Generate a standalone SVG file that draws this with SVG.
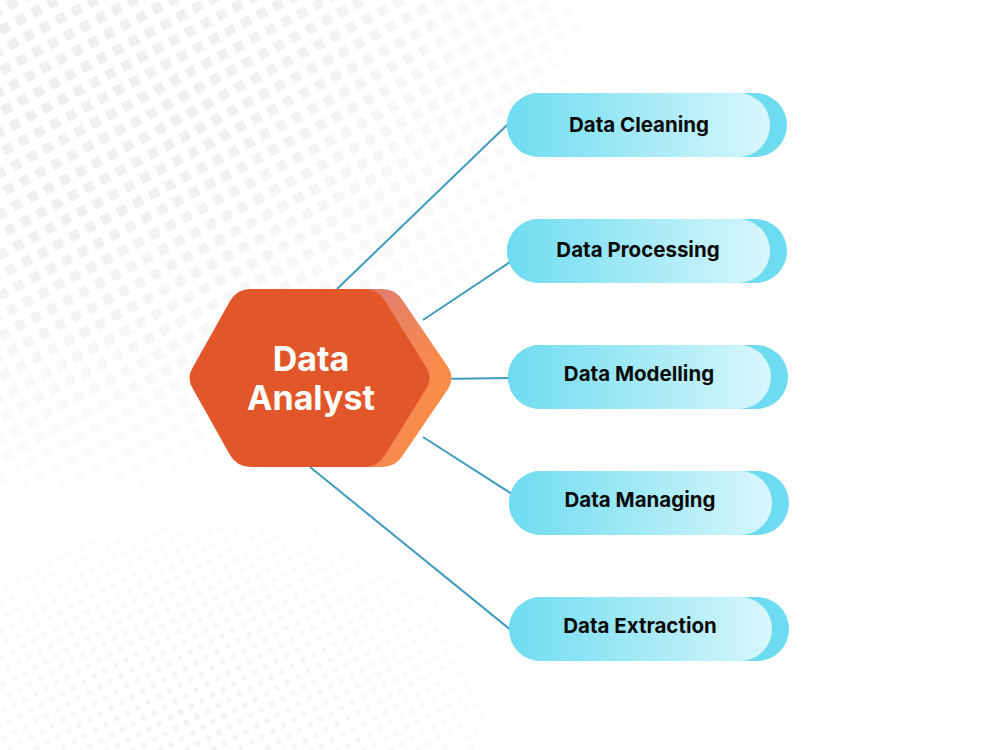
<svg xmlns="http://www.w3.org/2000/svg" width="1000" height="750" viewBox="0 0 1000 750">
<defs>
<style>
.conn{stroke:#3f9cbf;stroke-width:2;fill:none}
.pback{fill:#6edcf0}
.pfront{fill:url(#pg)}
.ptxt{font-family:Inter,"Liberation Sans",sans-serif;font-weight:700;font-size:20.5px;fill:#0a0a0a;text-anchor:middle}
.htxt{font-family:Inter,"Liberation Sans",sans-serif;font-weight:700;font-size:34px;fill:#ffffff;text-anchor:middle}
</style>
<linearGradient id="pg" x1="0" y1="0" x2="1" y2="0">
<stop offset="0" stop-color="#6edcf0"/>
<stop offset="1" stop-color="#d8f7fc"/>
</linearGradient>
<linearGradient id="hg" x1="0" y1="0" x2="1" y2="0.3">
<stop offset="0.5" stop-color="#d7767b"/>
<stop offset="1" stop-color="#fb8c4a"/>
</linearGradient>
<pattern id="dots" width="18" height="18" patternUnits="userSpaceOnUse" patternTransform="rotate(-28)">
<rect x="4" y="4" width="10" height="10" fill="#eeeeee"/>
</pattern>
<pattern id="dots2" width="12" height="12" patternUnits="userSpaceOnUse" patternTransform="rotate(-28)">
<rect x="3" y="3" width="5" height="5" fill="#eeeeee"/>
</pattern>
<radialGradient id="fade1" cx="0" cy="0" r="1" gradientUnits="userSpaceOnUse" gradientTransform="translate(0 0) scale(640 540)">
<stop offset="0" stop-color="#fff"/>
<stop offset="0.45" stop-color="#fff" stop-opacity="0.85"/>
<stop offset="1" stop-color="#fff" stop-opacity="0"/>
</radialGradient>
<radialGradient id="fade2" cx="0" cy="0" r="1" gradientUnits="userSpaceOnUse" gradientTransform="translate(200 720) scale(380 260)">
<stop offset="0" stop-color="#fff" stop-opacity="0.8"/>
<stop offset="1" stop-color="#fff" stop-opacity="0"/>
</radialGradient>
<mask id="m1"><rect width="1000" height="750" fill="url(#fade1)"/></mask>
<mask id="m2"><rect width="1000" height="750" fill="url(#fade2)"/></mask>
</defs>
<rect width="1000" height="750" fill="#ffffff"/>
<g id="background">
<rect width="1000" height="750" fill="url(#dots)" mask="url(#m1)"/>
<rect width="1000" height="750" fill="url(#dots2)" mask="url(#m2)"/>
</g>
<g id="connectors">
<line class="conn" x1="337" y1="289" x2="507" y2="125"/>
<line class="conn" x1="423" y1="320" x2="510" y2="262"/>
<line class="conn" x1="440" y1="379" x2="510" y2="378"/>
<line class="conn" x1="423" y1="437" x2="512" y2="494"/>
<line class="conn" x1="310" y1="467" x2="512" y2="631"/>
</g>
<g id="data-analyst">
<path fill="url(#hg)" d="M214,367 L251,301 Q258,289 272,289 L382,289 Q396,289 403,301 L448,367 Q455,378 448,389 L403,455 Q396,467 382,467 L272,467 Q258,467 251,455 L214,389 Q207,378 214,367 Z"/>
<path fill="#e2572a" d="M193,367 L230,301 Q237,289 251,289 L364,289 Q378,289 385,301 L426,367 Q433,378 426,389 L385,455 Q378,467 364,467 L251,467 Q237,467 230,455 L193,389 Q186,378 193,367 Z"/>
<text class="htxt" x="311" y="371">Data</text>
<text class="htxt" x="311" y="410">Analyst</text>
</g>
<g id="data-cleaning">
<rect class="pback" x="507" y="93" width="280" height="64" rx="32"/>
<rect class="pfront" x="507" y="93" width="263" height="64" rx="32"/>
<text class="ptxt" x="639" y="132">Data Cleaning</text>
</g>
<g id="data-processing">
<rect class="pback" x="507" y="219" width="280" height="64" rx="32"/>
<rect class="pfront" x="507" y="219" width="263" height="64" rx="32"/>
<text class="ptxt" x="638" y="257">Data Processing</text>
</g>
<g id="data-modelling">
<rect class="pback" x="508" y="345" width="280" height="64" rx="32"/>
<rect class="pfront" x="508" y="345" width="263" height="64" rx="32"/>
<text class="ptxt" x="639" y="381">Data Modelling</text>
</g>
<g id="data-managing">
<rect class="pback" x="509" y="471" width="280" height="64" rx="32"/>
<rect class="pfront" x="509" y="471" width="263" height="64" rx="32"/>
<text class="ptxt" x="640" y="507">Data Managing</text>
</g>
<g id="data-extraction">
<rect class="pback" x="509" y="597" width="280" height="64" rx="32"/>
<rect class="pfront" x="509" y="597" width="263" height="64" rx="32"/>
<text class="ptxt" x="640" y="633">Data Extraction</text>
</g>
</svg>
